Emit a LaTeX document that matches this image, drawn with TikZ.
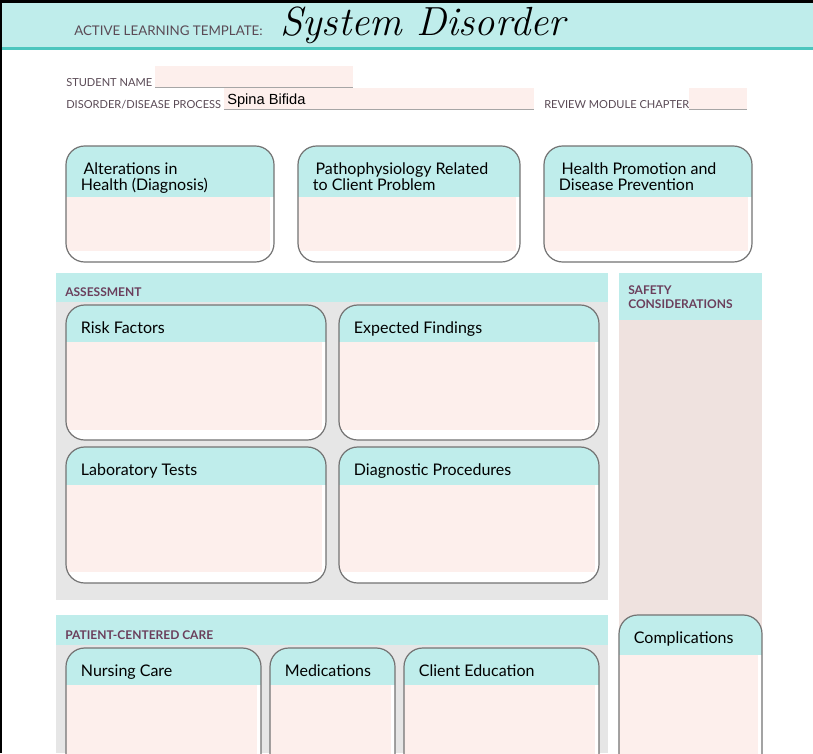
\documentclass[tikz,border=0pt]{standalone}
\usepackage{fontspec}
\setmainfont{Lato}
\newfontfamily\arialf{Liberation Sans}
\newfontfamily\titlef{Latin Modern Roman}
\definecolor{teal}{HTML}{BFEDEB}
\definecolor{tealline}{HTML}{4CC6BE}
\definecolor{pinkf}{HTML}{FDEFEC}
\definecolor{grayp}{HTML}{E6E6E6}
\definecolor{safe}{HTML}{EFE2DF}
\definecolor{plum}{HTML}{6B3F5C}
\definecolor{lab}{HTML}{5A4A55}
\newcommand{\cbox}[8]{%
  \begin{scope}
  \clip[rounded corners=14] (#2,#3) rectangle (#4,#5);
  \fill[white] (#2,#3) rectangle (#4,#5);
  \fill[teal] (#2,#3) rectangle (#4,#6);
  \fill[pinkf] (#2,#6) rectangle (#4-4,#7);
  \end{scope}
  \draw[boxline,rounded corners=14] (#2,#3) rectangle (#4,#5);
  \node[boxtitle] (#1) at (#2+12,#3+14) {#8};}
\tikzset{boxline/.style={draw=black!55,line width=0.9pt},
 boxtitle/.style={anchor=north west,align=left,font=\fontsize{12}{12}\selectfont,text=black,inner sep=2pt},
 sect/.style={anchor=west,font=\bfseries\fontsize{9}{11}\selectfont,text=plum,inner sep=0pt,align=left},
 lbl/.style={anchor=base west,font=\fontsize{8.3}{9}\selectfont,text=lab,inner sep=0pt}}
\begin{document}
\begin{tikzpicture}[x=0.75pt,y=-0.75pt]
\useasboundingbox (0,0) rectangle (813,753);
\fill[white] (0,0) rectangle (813,753);
\fill[black] (0,0) rectangle (813,3);
\fill[black] (0,0) rectangle (2,753);
\fill[teal] (2,3) rectangle (813,47);
\fill[tealline] (2,47) rectangle (813,50);
\node[lbl,font=\fontsize{10}{10}\selectfont] (alt) at (74,35) {ACTIVE LEARNING TEMPLATE:};
\node[anchor=base west,inner sep=0pt,font=\titlef\itshape\fontsize{30.5}{30}\selectfont] (title) at (280,35) {System Disorder};
% student fields
\fill[pinkf] (155,66) rectangle (353,87);
\draw[black!35] (155,87) -- (353,87);
\node[lbl] (sn) at (66,86) {STUDENT NAME};
\fill[pinkf] (224,88) rectangle (534,109);
\draw[black!35] (224,109) -- (534,109);
\node[lbl] (dp) at (66,108) {DISORDER/DISEASE PROCESS};
\node[anchor=base west,inner sep=0pt,font=\arialf\fontsize{11}{11}\selectfont] (sb) at (227,104) {Spina Bifida};
\fill[pinkf] (689,88) rectangle (747,109);
\draw[black!35] (689,109) -- (747,109);
\node[lbl] (rm) at (544,108) {REVIEW MODULE CHAPTER};
% top boxes
\cbox{b1}{66}{146}{274}{262}{197}{251}{\,Alterations in\\Health (Diagnosis)}
\cbox{b2}{298}{146}{520}{262}{197}{251}{\,Pathophysiology Related\\to Client Problem}
\cbox{b3}{544}{146}{752}{262}{197}{251}{\,Health Promotion and\\Disease Prevention}
% assessment
\fill[grayp] (56,273) rectangle (608,600);
\fill[teal] (56,273) rectangle (608,302);
\node[sect] (as) at (65,292) {ASSESSMENT};
\cbox{rf}{66}{305}{326}{440}{342}{430}{Risk Factors}
\cbox{ef}{339}{305}{599}{440}{342}{430}{Expected Findings}
\cbox{lt}{66}{447}{326}{583}{485}{572}{Laboratory Tests}
\cbox{dpx}{339}{447}{599}{583}{485}{572}{Diagnostic Procedures}
% safety
\fill[safe] (619,273) rectangle (762,753);
\fill[teal] (619,273) rectangle (762,320);
\node[sect,anchor=north west] (sc) at (628,285) {SAFETY\\CONSIDERATIONS};
\cbox{cp}{619}{615}{762}{780}{655}{780}{Complications}
% patient centered
\fill[grayp] (56,615) rectangle (608,753);
\fill[teal] (56,615) rectangle (608,645);
\node[sect] (pc) at (65,635) {PATIENT-CENTERED CARE};
\cbox{nc}{66}{648}{261}{790}{685}{790}{Nursing Care}
\cbox{md}{270}{648}{395}{790}{685}{790}{Medications}
\cbox{ce}{404}{648}{599}{790}{685}{790}{Client Education}
\end{tikzpicture}
\end{document}
